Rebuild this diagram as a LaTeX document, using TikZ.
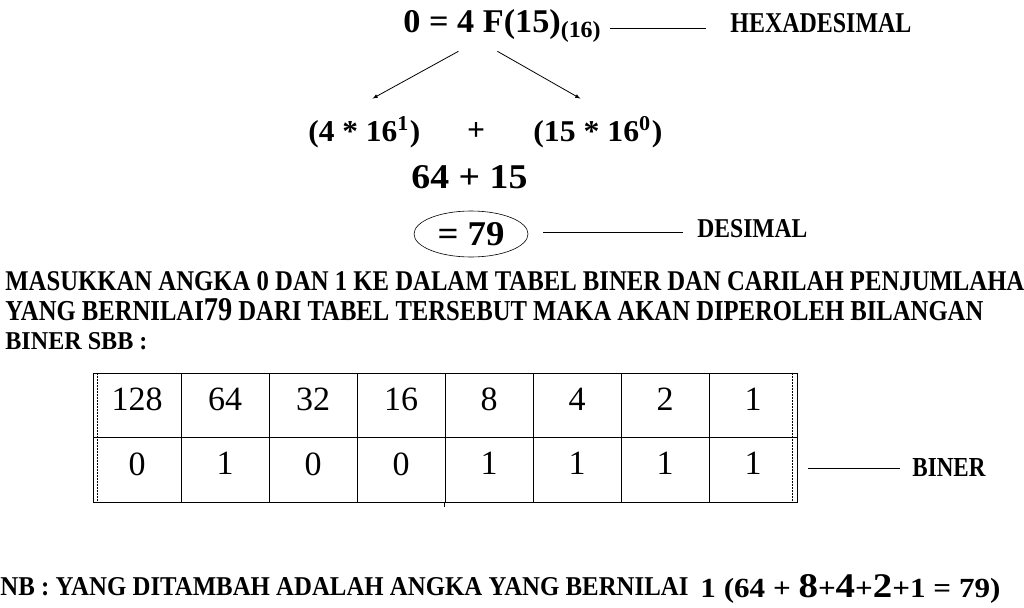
\documentclass[tikz,border=0pt]{standalone}
\usepackage{fontspec}
\setmainfont{Liberation Serif}
\usepackage{graphicx}
\usepackage{tikz}
\tikzset{>=latex}
\usetikzlibrary{arrows,calc,shapes.geometric,positioning}
\newcommand{\fitto}[3]{\resizebox{#1pt}{#2pt}{#3}}
\newcommand{\bigdigit}[1]{\scalebox{1.25}{#1}}
\tikzset{
  txt/.style={inner sep=0pt,anchor=base west},
  cell/.style={draw,minimum width=88pt,minimum height=64.5pt,inner sep=0pt,
    text depth=12pt,font=\fontsize{34}{34}\selectfont}
}

\begin{document}
\begin{tikzpicture}[x=1pt,y=-1pt,line width=0.8pt]
\useasboundingbox (0,0) rectangle (1024,607);

% hexadesimal ke desimal
\node[txt] (hexa) at (403,33) {\fitto{199}{23}{\bfseries 0 = 4 F(15)\textsubscript{(16)}}};
\node[txt] (hexlbl) at (730,33) {\fitto{181}{19}{\bfseries HEXADESIMAL}};
\draw ([xshift=7pt,yshift=5pt]hexa.base east) -- ([xshift=-24pt,yshift=5pt]hexlbl.base west);

\node[txt] (lterm) at (308,141) {\fitto{112}{25}{\bfseries (4 * 16\textsuperscript{1})}};
\node[inner sep=0pt] (plus) at (476,131) {\fitto{18}{18}{\bfseries +}};
\node[txt] (rterm) at (533,141) {\fitto{129}{25}{\bfseries (15 * 16\textsuperscript{0})}};
\draw[->] ([xshift=-44.5pt,yshift=-8pt]hexa.south) -- ([xshift=8pt,yshift=17pt]lterm.north);
\draw[->] ([xshift=-5.5pt,yshift=-8pt]hexa.south) -- ([xshift=-17.5pt,yshift=17pt]rterm.north);

\node[txt] (sum) at (411,188) {\fitto{116}{23}{\bfseries 64 + 15}};
\node[ellipse,draw,line width=0.6pt,minimum width=114pt,minimum height=46pt,inner sep=0pt] (ell) at (471,234) {\fitto{67}{23}{\bfseries = 79}};
\node[txt] (deslbl) at (697,237) {\fitto{110}{18}{\bfseries DESIMAL}};
\draw ([xshift=15pt,yshift=2pt]ell.east) -- ([xshift=-14pt,yshift=5pt]deslbl.base west);

% keterangan
\node[txt] (p1) at (5,290) {\fitto{1019}{19}{\bfseries MASUKKAN ANGKA 0 DAN 1 KE DALAM TABEL BINER DAN CARILAH PENJUMLAHA}};
\node[txt] (p2) at (5,320) {\fitto{978}{22}{\bfseries YANG BERNILAI\scalebox{1.15}{79} DARI TABEL TERSEBUT MAKA AKAN DIPEROLEH BILANGAN}};
\node[txt] (p3) at (5,349) {\fitto{142}{17}{\bfseries BINER SBB :}};

% tabel biner
\foreach \v [count=\i] in {128,64,32,16,8,4,2,1}
  \node[cell] (h\i) at ({93+88*(\i-0.5)},405.25) {\v};
\foreach \v [count=\i] in {0,1,0,0,1,1,1,1}
  \node[cell] (b\i) at ({93+88*(\i-0.5)},469.75) {\v};
\draw[densely dotted,line width=0.5pt] ([xshift=5pt]h1.north west) -- ([xshift=5pt]b1.south west);
\draw[densely dotted,line width=0.5pt] ([xshift=-5pt]h8.north east) -- ([xshift=-5pt]b8.south east);
\draw (b5.south west) -- ++(0,5);

\node[txt] (binlbl) at (912,476) {\fitto{73}{18}{\bfseries BINER}};
\draw ([xshift=11pt,yshift=1.5pt]b8.east) -- ($(b8.east -| binlbl.west)+(-12pt,1.5pt)$);

% catatan
\node[txt] (nb1) at (0,595) {\fitto{688}{18}{\bfseries NB : YANG DITAMBAH ADALAH ANGKA YANG BERNILAI}};
\node[txt] (nb2) at (700,597) {\fitto{300}{23}{\bfseries 1 (64 + \bigdigit{8}+\bigdigit{4}+\bigdigit{2}+1 = 79)}};
\end{tikzpicture}
\end{document}
